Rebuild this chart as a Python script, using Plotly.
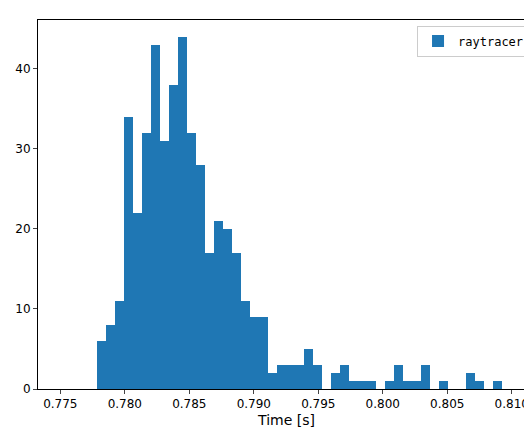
import plotly.graph_objects as go

counts = [6,8,11,34,22,32,43,31,38,44,32,28,17,21,20,17,11,9,9,2,3,3,3,5,3,0,2,3,1,1,1,0,1,3,1,1,3,0,1,0,0,2,1,0,1]
bin_start = 0.77781
bin_width = 0.000698
centers = [bin_start + (i + 0.5) * bin_width for i in range(len(counts))]
xticks = [0.775, 0.780, 0.785, 0.790, 0.795, 0.800, 0.805, 0.810]

fig = go.Figure(go.Bar(x=centers, y=counts, width=bin_width, marker=dict(color="#1f77b4", line=dict(width=0)),
                       name="raytracer", showlegend=True))
ax = dict(showline=True, mirror=True, linecolor="black", linewidth=1, ticks="outside", ticklen=4,
          showgrid=False, zeroline=False, tickfont=dict(size=12, color="black"))
fig.update_layout(
    width=532, height=428, plot_bgcolor="white", paper_bgcolor="white",
    margin=dict(l=30, r=5, t=12, b=47), bargap=0,
    font=dict(family="DejaVu Sans", size=12, color="black"),
    xaxis=dict(ax, range=[0.77327, 0.8118], tickvals=xticks, tickformat=".3f",
               title=dict(text="Time [s]", standoff=4)),
    yaxis=dict(ax, range=[0, 46.1], tickvals=[0,10,20,30,40]),
    legend=dict(x=0.99, y=0.985, xanchor="right", yanchor="top", bordercolor="#cccccc", borderwidth=1,
                font=dict(family="DejaVu Sans Mono", size=12)),
)
fig.write_html("out.html")
